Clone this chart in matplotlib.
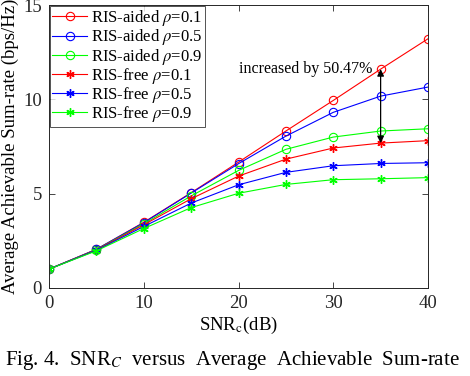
import matplotlib
matplotlib.use("Agg")
import matplotlib.pyplot as plt

plt.rcParams['font.family'] = ['Liberation Serif', 'DejaVu Serif']
plt.rcParams['mathtext.fontset'] = 'stix'

snr = [0, 5, 10, 15, 20, 25, 30, 35, 40]
aided_01 = [1.0, 2.05, 3.48, 5.05, 6.67, 8.32, 9.94, 11.6, 13.21]
aided_05 = [1.0, 2.05, 3.46, 5.03, 6.59, 8.05, 9.31, 10.17, 10.65]
aided_09 = [1.0, 2.03, 3.40, 4.88, 6.23, 7.35, 8.00, 8.32, 8.44]
free_01 = [1.0, 2.02, 3.35, 4.73, 5.93, 6.83, 7.42, 7.68, 7.81]
free_05 = [1.0, 2.00, 3.26, 4.50, 5.47, 6.13, 6.48, 6.60, 6.64]
free_09 = [1.0, 1.97, 3.15, 4.26, 5.02, 5.49, 5.74, 5.79, 5.85]

labels = [r'RIS-aided $\rho$=0.1', r'RIS-aided $\rho$=0.5', r'RIS-aided $\rho$=0.9',
          r'RIS-free $\rho$=0.1', r'RIS-free $\rho$=0.5', r'RIS-free $\rho$=0.9']
series = [aided_01, aided_05, aided_09, free_01, free_05, free_09]
colors = ['#ff0000', '#0000ff', '#00ff00', '#ff0000', '#0000ff', '#00ff00']
markers = ['o', 'o', 'o', (6, 2, 0), (6, 2, 0), (6, 2, 0)]

fig = plt.figure(figsize=(4.7, 3.76), dpi=100)
ax = fig.add_axes([49/470, 1-288/376, (428-49)/470, (288-5)/376])

for y, lab, c, m in zip(series, labels, colors, markers):
    if m == 'o':
        ax.plot(snr, y, color=c, marker=m, mfc='none', ms=6, mew=0.8, lw=0.8, label=lab)
    else:
        ax.plot(snr, y, color=c, marker=m, ms=6, mew=1.0, lw=0.8, label=lab)

ax.set_xlim(0, 40)
ax.set_ylim(0, 15)
ax.set_xticks([0, 10, 20, 30, 40])
ax.set_yticks([0, 5, 10, 15])
ax.tick_params(direction='in', top=True, right=True, labelsize=13.5, length=4,
               width=0.6, colors='#262626', pad=5)
for s in ax.spines.values():
    s.set_color('#262626')
    s.set_linewidth(0.7)

ax.set_xlabel(r'SNR$_{\mathrm{c}}$(dB)', fontsize=13.5, labelpad=2)
ax.set_ylabel('Average Achievable Sum-rate (bps/Hz)', fontsize=13.5, labelpad=3)

leg = ax.legend(loc='upper left', fontsize=12, frameon=True, fancybox=False,
                borderaxespad=0.05, handlelength=2.1, handletextpad=0.2,
                labelspacing=-0.05, borderpad=0.15)
leg.get_frame().set_edgecolor('#262626')
leg.get_frame().set_linewidth(0.7)

ax.annotate('', xy=(35, aided_01[7]), xytext=(35, free_01[7]),
            arrowprops=dict(arrowstyle='<|-|>', color='black', lw=0.9,
                            mutation_scale=10, shrinkA=0, shrinkB=0))
ax.text(20.1, 11.6, 'increased by 50.47%', fontsize=11.5, va='center', ha='left')

fig.text(5/470, 1 - 361/376, r'Fig. 4.  SNR$_C$  versus  Average  Achievable  Sum-rate',
         fontsize=15, va='center', ha='left')

fig.savefig('out.png', dpi=100)
